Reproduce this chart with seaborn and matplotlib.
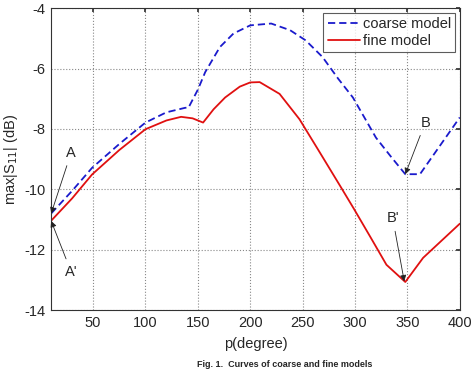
import numpy as np
import pandas as pd
import seaborn as sns
import matplotlib.pyplot as plt

# data
coarse_p = [10, 30, 49, 75, 100, 120, 138, 141, 150, 157, 171, 184, 200, 220,
            238, 253, 269, 284, 298, 320, 335, 348, 362, 380, 400]
coarse_s11 = [-10.8, -10.05, -9.29, -8.5, -7.79, -7.45, -7.3, -7.3, -6.7, -6.12,
              -5.29, -4.84, -4.57, -4.51, -4.73, -5.07, -5.62, -6.34, -6.96,
              -8.29, -8.95, -9.5, -9.5, -8.61, -7.62]

fine_p = [10, 30, 49, 75, 100, 120, 134, 145, 155, 165, 176, 190, 200, 209,
          228, 247, 265, 286, 299, 315, 330, 348, 365, 400]
fine_s11 = [-11.04, -10.3, -9.51, -8.7, -8.01, -7.72, -7.6, -7.65, -7.79, -7.35,
            -6.96, -6.6, -6.46, -6.45, -6.84, -7.68, -8.7, -9.9, -10.65, -11.6,
            -12.5, -13.07, -12.27, -11.14]

x_ticks = [50, 100, 150, 200, 250, 300, 350, 400]
y_ticks = [-14, -12, -10, -8, -6, -4]

df = pd.concat([
    pd.DataFrame({"p": coarse_p, "s11": coarse_s11, "model": "coarse model"}),
    pd.DataFrame({"p": fine_p, "s11": fine_s11, "model": "fine model"}),
])

sns.set_theme(style="white")
plt.rcParams["font.family"] = ["Liberation Sans", "DejaVu Sans"]
plt.rcParams["axes.unicode_minus"] = False

fig = plt.figure(figsize=(4.74, 3.70), dpi=100)
ax = fig.add_axes([0.108, 0.162, 0.862, 0.816])

sns.lineplot(data=df, x="p", y="s11", hue="model", style="model",
             palette={"coarse model": "#1a1acc", "fine model": "#e01010"},
             dashes={"coarse model": (4, 2.2), "fine model": ""},
             estimator=None, sort=False, linewidth=1.3, ax=ax)

ax.set_xlim(10, 400)
ax.set_ylim(-14, -4)
ax.set_xticks(x_ticks)
ax.set_yticks(y_ticks)
ax.grid(True, linestyle=":", color="#888888", linewidth=0.8)
ax.tick_params(direction="in", labelsize=10.5, length=3, top=True, right=True,
               color="#333333", pad=4)
for s in ax.spines.values():
    s.set_color("#333333")
    s.set_linewidth(0.8)

ax.set_xlabel("p(degree)", fontsize=10.5, labelpad=5)
ax.set_ylabel("max|S$_{11}$| (dB)", fontsize=10.5, labelpad=3)

leg = ax.legend(loc="upper right", fontsize=10.5, frameon=True, fancybox=False,
                edgecolor="#333333", handlelength=2.2, borderpad=0.3,
                labelspacing=0.2, handletextpad=0.2, borderaxespad=0.3)
leg.get_frame().set_linewidth(0.8)

arrow = dict(arrowstyle="-|>", color="#222222", lw=0.6, mutation_scale=9,
             shrinkA=2, shrinkB=0)
ax.annotate("A", xy=(10, -10.8), xytext=(29, -8.79), fontsize=10.5,
            ha="center", va="center", arrowprops=arrow)
ax.annotate("A'", xy=(10, -11.05), xytext=(29, -12.73), fontsize=10.5,
            ha="center", va="center", arrowprops=arrow)
ax.annotate("B", xy=(348, -9.5), xytext=(367, -7.79), fontsize=10.5,
            ha="center", va="center", arrowprops=arrow)
ax.annotate("B'", xy=(347, -13.05), xytext=(336, -10.96), fontsize=10.5,
            ha="center", va="center", arrowprops=arrow)

fig.text(0.6, 0.004, "Fig. 1.  Curves of coarse and fine models", fontsize=6.5,
         ha="center", va="bottom", fontweight="bold")

fig.savefig("out.png", dpi=100)
